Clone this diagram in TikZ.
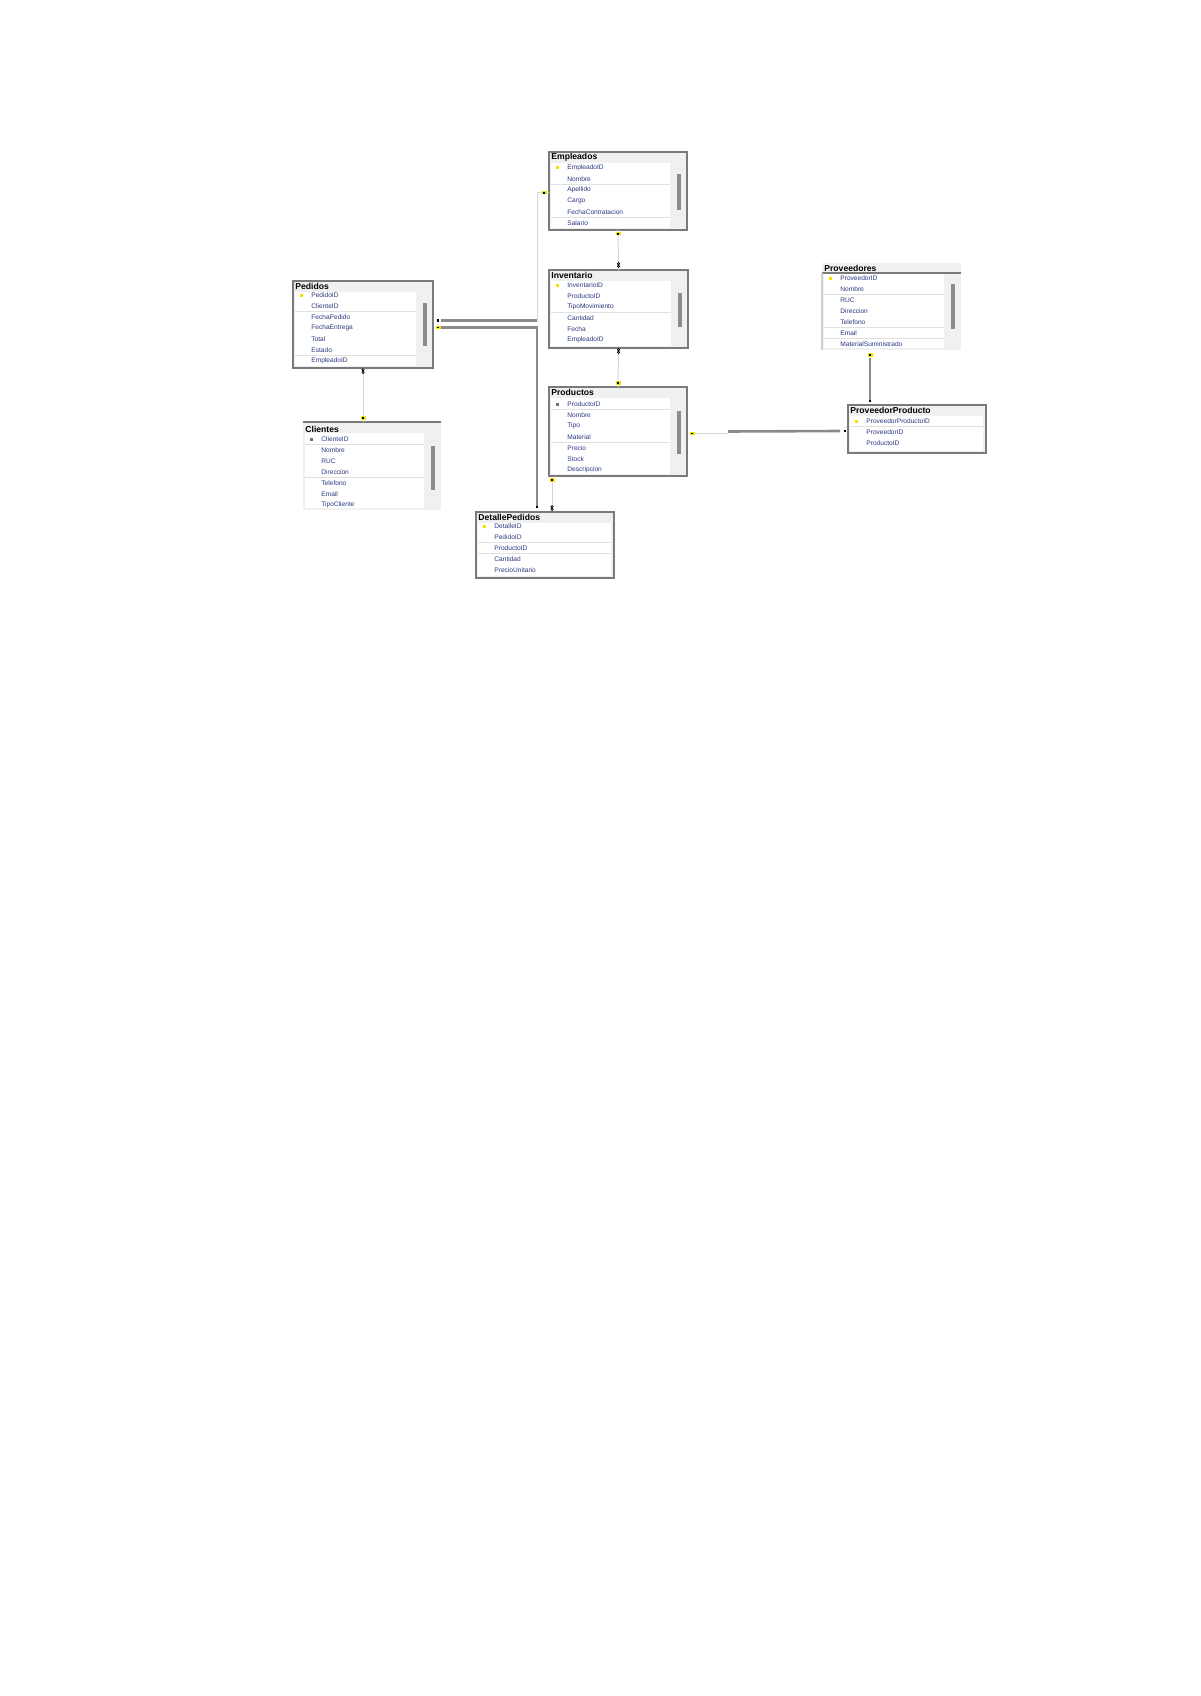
\documentclass[tikz,border=0pt]{standalone}
\usepackage{fontspec}
\setmainfont{Liberation Sans}
\usetikzlibrary{calc}
\definecolor{titlebg}{HTML}{F0F0F0}
\definecolor{bordergray}{HTML}{7A7A7A}
\definecolor{thumbgray}{HTML}{8C8C8C}
\definecolor{sepgray}{HTML}{E0E0E0}
\definecolor{fieldtxt}{HTML}{2A3880}
\definecolor{keyyellow}{HTML}{F2E200}
\definecolor{keygray}{HTML}{707070}
\definecolor{linklight}{HTML}{D8D8D8}
\definecolor{linkdark}{HTML}{8A8A8A}
\definecolor{edgelight}{HTML}{D0D0D0}

\tikzset{
  tbl/.style={draw=bordergray, line width=0.8pt, inner sep=0pt, outer sep=0pt},
  tblopen/.style={draw=none, inner sep=0pt, outer sep=0pt},
  ttl/.style={anchor=west, inner sep=0pt, font=\fontsize{4.3}{5}\selectfont\bfseries, text=black},
  fld/.style={anchor=west, inner sep=0pt, font=\fontsize{3.3}{4}\selectfont, text=fieldtxt},
  thinlink/.style={draw=linklight, line width=0.5pt},
  thicklink/.style={draw=linkdark, line width=1.3pt},
}

\def\tblscroll{1}\def\thtop{22}\def\thbot{58}\def\ttloff{5}\def\keycol{keyyellow}\def\tblstyle{tbl}
% #1 name #2 x0 #3 y0 #4 w #5 h #6 title #7 row offset #8 rows #9 separators
\newcommand{\dbtable}[9]{%
  \pgfmathsetmacro{\xa}{#2}\pgfmathsetmacro{\ya}{#3}%
  \pgfmathsetmacro{\xb}{#2+#4}\pgfmathsetmacro{\yb}{#3+#5}%
  \ifnum\tblscroll=1 \pgfmathsetmacro{\xw}{\xb-17}\else\pgfmathsetmacro{\xw}{\xb-3}\fi
  \fill[titlebg] (\xa,\ya) rectangle (\xb,\yb);
  \fill[white] (\xa+2,\ya+11) rectangle (\xw,\yb-2);
  \ifnum\tblscroll=1 \fill[thumbgray] (\xb-10,\ya+\thtop) rectangle (\xb-6,\ya+\thbot);\fi
  \foreach \s in {#9} {\draw[sepgray, line width=0.4pt] (\xa+2,{#3+#7+(\s-0.5)*11}) -- (\xw,{#3+#7+(\s-0.5)*11});}
  \fill[\keycol] (\xa+7,#3+#7-1.5) rectangle (\xa+10,#3+#7+1.5);
  \foreach \r [count=\i] in {#8} {\node[fld] (#1-\i) at (\xa+18,{#3+#7+(\i-1)*11}) {\r};}
  \node[ttl] (#1-title) at (\xa+2,\ya+\ttloff) {#6};
  \node[\tblstyle, anchor=north west, minimum width=#4*0.5pt, minimum height=#5*0.5pt] (#1) at (\xa,\ya) {};
}
\newcommand{\keymark}[1]{\fill[keyyellow] ($#1+(-2.5,-2)$) rectangle ($#1+(2.5,1.5)$); \fill[black] ($#1+(-0.8,-0.8)$) rectangle ($#1+(0.8,0.8)$);}
\newcommand{\infmark}[1]{\draw[black, line width=0.35pt] ($#1+(0,-1.3)$) circle (0.6pt) ($#1+(0,1.3)$) circle (0.6pt);}
\newcommand{\dotmark}[1]{\fill[black] ($#1+(-1.3,-1.3)$) rectangle ($#1+(1.3,1.3)$);}

\begin{document}
\begin{tikzpicture}[x=0.5pt, y=-0.5pt]
\useasboundingbox (0,0) rectangle (1200,1696);
\fill[white] (0,0) rectangle (1200,1696);

% ---- tables
\def\tblscroll{1}\def\thtop{22}\def\thbot{58}
\dbtable{emp}{549}{152}{138}{78}{Empleados}{16}{EmpleadoID,Nombre,Apellido,Cargo,FechaContratacion,Salario}{2,5}
\def\thtop{23}\def\thbot{57}
\dbtable{inv}{549}{270}{139}{78}{Inventario}{15}{InventarioID,ProductoID,TipoMovimiento,Cantidad,Fecha,EmpleadoID}{3}
\def\thtop{24}\def\thbot{67}\def\keycol{keygray}
\dbtable{prod}{549}{387}{138}{89}{Productos}{17}{ProductoID,Nombre,Tipo,Material,Precio,Stock,Descripcion}{1,4}
\def\thtop{22}\def\thbot{65}\def\keycol{keyyellow}
\dbtable{ped}{293}{281}{140}{87}{Pedidos}{14}{PedidoID,ClienteID,FechaPedido,FechaEntrega,Total,Estado,EmpleadoID}{2,6}
\def\thtop{24}\def\thbot{68}\def\keycol{keygray}\def\tblstyle{tblopen}\def\ttloff{7}
\dbtable{cli}{303}{422}{138}{88}{Clientes}{17}{ClienteID,Nombre,RUC,Direccion,Telefono,Email,TipoCliente}{1,4}
\draw[bordergray, line width=0.9pt] (cli.north west) -- (cli.north east);
\def\thtop{21}\def\thbot{66}\def\keycol{keyyellow}\def\ttloff{5}
\dbtable{prov}{822}{263}{139}{87}{Proveedores}{15}{ProveedorID,Nombre,RUC,Direccion,Telefono,Email,MaterialSuministrado}{2,5,6}
\draw[bordergray, line width=0.9pt] ($(prov.north west)+(0,10)$) -- ($(prov.north east)+(0,10)$);
\draw[edgelight, line width=0.6pt] ($(prov.north west)+(0,10)$) -- (prov.south west);
\def\tblscroll{0}\def\tblstyle{tbl}
\dbtable{det}{476}{512}{138}{66}{DetallePedidos}{14}{DetalleID,PedidoID,ProductoID,Cantidad,PrecioUnitario}{2,3}
\dbtable{pp}{848}{405}{138}{48}{ProveedorProducto}{16}{ProveedorProductoID,ProveedorID,ProductoID}{1}

% ---- connectors
\draw[thinlink] (emp.south) -- (inv.north);
\keymark{($(emp.south)+(0,4)$)}
\infmark{($(inv.north)+(0,-5)$)}

\draw[thinlink] (inv.south) -- (prod.north);
\infmark{($(inv.south)+(0,3)$)}
\keymark{($(prod.north)+(0,-4)$)}

\draw[thinlink] (ped.south) -- (ped.south |- cli.north);
\infmark{($(ped.south)+(0,3)$)}
\keymark{($(ped.south |- cli.north)+(0,-4)$)}

\draw[thicklink] ($(ped.east)+(8,-4)$) -- ++(96,0) coordinate (bendA);
\draw[thinlink] (bendA) |- ($(emp.west)+(0,2)$);
\dotmark{($(ped.east)+(5,-4)$)}
\keymark{($(emp.west)+(-5,2)$)}

\draw[thicklink] ($(ped.east)+(8,3)$) -| ($(det.north west)+(61,-6)$);
\keymark{($(ped.east)+(5,3)$)}
\dotmark{($(det.north west)+(61,-5)$)}

\draw[thinlink] ($(prod.south west)+(3,2)$) -- ($(det.north west)+(76,-4)$);
\keymark{($(prod.south west)+(3,4)$)}
\infmark{($(det.north west)+(76,-4)$)}

\draw[thinlink] ($(prod.east)+(6,2)$) -- ++(35,0) coordinate (bendB);
\draw[thicklink] ($(bendB)+(0,-2)$) -- ($(pp.west)+(-8,2)$);
\keymark{($(prod.east)+(5,2)$)}
\dotmark{($(pp.west)+(-3,2)$)}

\draw[thicklink] ($(pp.north west)+(22,-5)$) -- ($(prov.south west)+(48,8)$);
\keymark{($(prov.south west)+(48,5)$)}
\dotmark{($(pp.north west)+(22,-4)$)}
\end{tikzpicture}
\end{document}
